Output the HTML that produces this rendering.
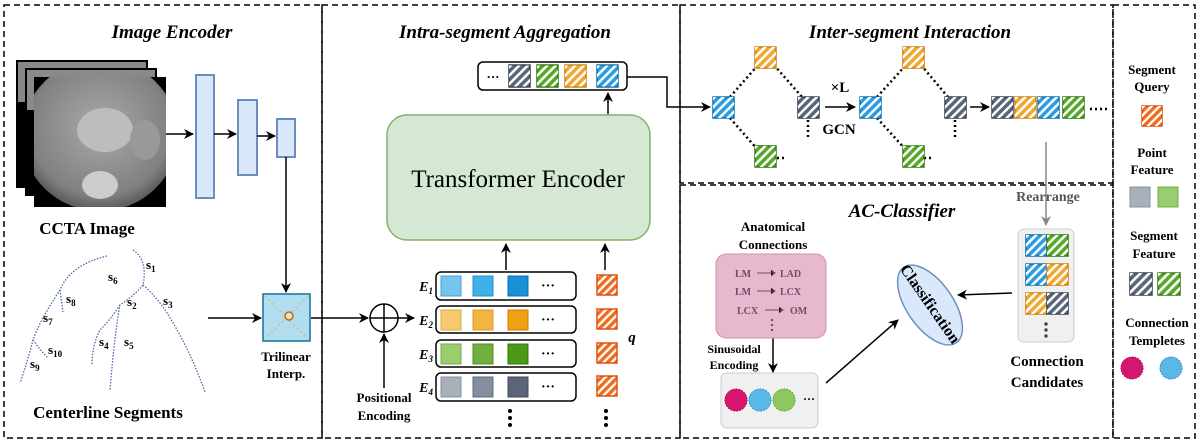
<!DOCTYPE html>
<html><head><meta charset="utf-8"><style>body{margin:0;background:#fff}svg{display:block}text{font-family:"Liberation Serif",serif;font-weight:bold}</style></head><body>
<svg width="1200" height="443" viewBox="0 0 1200 443" xmlns="http://www.w3.org/2000/svg">
<defs>
<marker id="ar" markerWidth="10" markerHeight="10" refX="9" refY="5" orient="auto" markerUnits="userSpaceOnUse"><path d="M0,0 L10,5 L0,10 L3,5z" fill="#000"/></marker>
<marker id="ag" markerWidth="10" markerHeight="10" refX="9" refY="5" orient="auto" markerUnits="userSpaceOnUse"><path d="M0,0 L10,5 L0,10 L3,5z" fill="#888"/></marker>
<pattern id="h" width="6" height="6" patternUnits="userSpaceOnUse" patternTransform="rotate(45)"><rect width="2.5" height="6" fill="#fff"/></pattern>
<radialGradient id="ct" cx="0.5" cy="0.45" r="0.6"><stop offset="0" stop-color="#aaa"/><stop offset="0.75" stop-color="#808080"/><stop offset="1" stop-color="#444"/></radialGradient>
<clipPath id="cc"><rect x="34" y="77" width="132" height="130"/></clipPath>
<symbol id="hs" viewBox="0 0 21 21"><rect width="21" height="21" fill="url(#h)"/></symbol>
</defs>
<g fill="none" stroke="#000" stroke-width="1.5" stroke-dasharray="6,4">
<rect x="4" y="5" width="318" height="433"/>
<rect x="322" y="5" width="358" height="433"/>
<rect x="680" y="5" width="433" height="178"/>
<rect x="680" y="185" width="433" height="253"/>
<rect x="1113" y="5" width="82" height="433"/>
</g>
<g font-style="italic" font-size="19" text-anchor="middle">
<text x="172" y="38">Image Encoder</text>
<text x="505" y="38">Intra-segment Aggregation</text>
<text x="910" y="38">Inter-segment Interaction</text>
<text x="902" y="217">AC-Classifier</text>
</g>
<!-- CT images -->
<rect x="16" y="60" width="132" height="128" fill="#000"/>
<rect x="18" y="62" width="128" height="40" fill="#888"/>
<rect x="25" y="68" width="132" height="128" fill="#000"/>
<rect x="27" y="70" width="128" height="40" fill="#8a8a8a"/>
<rect x="34" y="77" width="132" height="130" fill="#000"/>
<g clip-path="url(#cc)">
<ellipse cx="100" cy="135" rx="78" ry="76" fill="url(#ct)"/>
<ellipse cx="105" cy="130" rx="28" ry="22" fill="#bdbdbd"/>
<ellipse cx="145" cy="140" rx="15" ry="20" fill="#999"/>
<ellipse cx="100" cy="185" rx="18" ry="14" fill="#ccc"/>
</g>
<text x="87" y="234" font-size="17" text-anchor="middle">CCTA Image</text>
<g fill="#dae8fc" stroke="#6c8ebf" stroke-width="2">
<rect x="196" y="75" width="18" height="123"/><rect x="238" y="100" width="19" height="75"/><rect x="277" y="119" width="18" height="38"/></g>
<g stroke="#000" stroke-width="1.5" fill="none" marker-end="url(#ar)">
<line x1="166" y1="134" x2="193" y2="134"/><line x1="214" y1="134" x2="236" y2="134"/><line x1="257" y1="136" x2="275" y2="136"/>
<line x1="286" y1="157" x2="286" y2="292"/><line x1="208" y1="318" x2="261" y2="318"/>
<line x1="311" y1="318" x2="368" y2="318"/><line x1="398" y1="318" x2="414" y2="318"/>
<line x1="384" y1="388" x2="384" y2="334"/>
<line x1="506" y1="270" x2="506" y2="244"/><line x1="605" y1="270" x2="605" y2="244"/>
<line x1="608" y1="114" x2="608" y2="93"/>
<polyline points="627,77 667,77 667,107 710,107"/>
<line x1="825" y1="107" x2="855" y2="107"/><line x1="970" y1="107" x2="989" y2="107"/>
<line x1="1012" y1="293" x2="958" y2="295"/><line x1="826" y1="383" x2="898" y2="320"/>
<line x1="773" y1="338" x2="773" y2="372"/>
</g>
<rect x="263" y="294" width="47" height="47" fill="#b1ddf0" stroke="#10739e" stroke-width="1.5"/>
<g stroke="#f4a460" stroke-dasharray="2,3"><line x1="265" y1="296" x2="308" y2="339"/><line x1="308" y1="296" x2="265" y2="339"/></g>
<circle cx="289" cy="316" r="4" fill="#fde0b0" stroke="#b07020" stroke-width="1.5"/>
<g font-size="13" text-anchor="middle"><text x="286" y="361">Trilinear</text><text x="286" y="378">Interp.</text></g>
<!-- centerlines -->
<g fill="none" stroke="#4a6aa8" stroke-width="1.3" stroke-dasharray="1.5,1.5">
<path d="M107,256 Q70,265 60,290 Q40,320 33,340 Q28,360 20,383"/>
<path d="M60,290 Q62,305 63,312"/>
<path d="M33,340 Q40,350 48,358"/>
<path d="M133,250 Q148,260 143,285 Q135,295 120,305 Q115,330 110,390"/>
<path d="M143,285 Q160,300 170,318 Q190,350 205,392"/>
<path d="M120,305 Q110,320 100,330 Q92,345 92,365"/>
</g>
<g font-size="13"><text x="146" y="269">s<tspan font-size="9" dy="3">1</tspan></text><text x="108" y="281">s<tspan font-size="9" dy="3">6</tspan></text>
<text x="66" y="303">s<tspan font-size="9" dy="3">8</tspan></text><text x="163" y="305">s<tspan font-size="9" dy="3">3</tspan></text>
<text x="127" y="306">s<tspan font-size="9" dy="3">2</tspan></text><text x="43" y="322">s<tspan font-size="9" dy="3">7</tspan></text>
<text x="99" y="346">s<tspan font-size="9" dy="3">4</tspan></text><text x="124" y="346">s<tspan font-size="9" dy="3">5</tspan></text>
<text x="48" y="354">s<tspan font-size="9" dy="3">10</tspan></text><text x="30" y="368">s<tspan font-size="9" dy="3">9</tspan></text></g>
<text x="108" y="418" font-size="17" text-anchor="middle">Centerline Segments</text>
<!-- intra -->
<rect x="478" y="62" width="149" height="28" rx="5" fill="#fff" stroke="#000" stroke-width="1.5"/>
<text x="493" y="81" font-size="13" text-anchor="middle">···</text>
<g stroke-width="1.5">
<rect x="509" y="65" width="21" height="22" fill="#5a6679" stroke="#384455"/><use href="#hs" x="509" y="65" width="21" height="22"/>
<rect x="537" y="65" width="21" height="22" fill="#58a828" stroke="#2d7a10"/><use href="#hs" x="537" y="65" width="21" height="22"/>
<rect x="565" y="65" width="21" height="22" fill="#f0a830" stroke="#d08010"/><use href="#hs" x="565" y="65" width="21" height="22"/>
<rect x="597" y="65" width="21" height="22" fill="#2a9ee0" stroke="#1070b0"/><use href="#hs" x="597" y="65" width="21" height="22"/>
</g>
<rect x="387" y="115" width="263" height="125" rx="20" fill="#d5e8d4" stroke="#82b366" stroke-width="1.5"/>
<text x="518" y="187" font-size="25" text-anchor="middle" style="font-weight:normal">Transformer Encoder</text>
<g stroke="#000" stroke-width="1.5" fill="#fff">
<rect x="436" y="272" width="140" height="28" rx="5"/><rect x="436" y="306" width="140" height="27" rx="5"/>
<rect x="436" y="340" width="140" height="27" rx="5"/><rect x="436" y="373" width="140" height="28" rx="5"/></g>
<g stroke-width="1">
<rect x="441" y="276" width="20" height="20" fill="#76c5ee" stroke="#4aa0d0"/><rect x="473" y="276" width="20" height="20" fill="#40b0e8" stroke="#2090c8"/><rect x="508" y="276" width="20" height="20" fill="#1a90d8" stroke="#0a70b0"/>
<rect x="441" y="310" width="20" height="20" fill="#f7c870" stroke="#e0a840"/><rect x="473" y="310" width="20" height="20" fill="#f4b440" stroke="#d89820"/><rect x="508" y="310" width="20" height="20" fill="#f0a010" stroke="#c88000"/>
<rect x="441" y="344" width="20" height="20" fill="#9ccc70" stroke="#78a850"/><rect x="473" y="344" width="20" height="20" fill="#70b040" stroke="#509020"/><rect x="508" y="344" width="20" height="20" fill="#4a9a18" stroke="#307808"/>
<rect x="441" y="377" width="20" height="20" fill="#a8b0bc" stroke="#8890a0"/><rect x="473" y="377" width="20" height="20" fill="#848e9e" stroke="#606a7a"/><rect x="508" y="377" width="20" height="20" fill="#5a6678" stroke="#404a5a"/>
</g>
<g font-size="14" text-anchor="middle"><text x="548" y="290">···</text><text x="548" y="324">···</text><text x="548" y="358">···</text><text x="548" y="391">···</text></g>
<g font-size="14" font-style="italic" text-anchor="end"><text x="433" y="291">E<tspan font-size="9" dy="3">1</tspan></text><text x="433" y="325">E<tspan font-size="9" dy="3">2</tspan></text><text x="433" y="359">E<tspan font-size="9" dy="3">3</tspan></text><text x="433" y="392">E<tspan font-size="9" dy="3">4</tspan></text></g>
<g stroke="#e05010" stroke-width="1.5">
<rect x="597" y="275" width="20" height="20" fill="#f26a1b"/><use href="#hs" x="597" y="275" width="20" height="20"/>
<rect x="597" y="309" width="20" height="20" fill="#f26a1b"/><use href="#hs" x="597" y="309" width="20" height="20"/>
<rect x="597" y="343" width="20" height="20" fill="#f26a1b"/><use href="#hs" x="597" y="343" width="20" height="20"/>
<rect x="597" y="376" width="20" height="20" fill="#f26a1b"/><use href="#hs" x="597" y="376" width="20" height="20"/>
</g>
<text x="632" y="342" font-size="15" font-style="italic" text-anchor="middle">q</text>
<circle cx="384" cy="318" r="14" fill="#fff" stroke="#000" stroke-width="1.5"/>
<path d="M370,318 H398 M384,304 V332" stroke="#000" stroke-width="1.5"/>
<g font-size="13" text-anchor="middle"><text x="384" y="402">Positional</text><text x="384" y="420">Encoding</text></g>
<g fill="#000"><circle cx="510" cy="411" r="2"/><circle cx="510" cy="418" r="2"/><circle cx="510" cy="425" r="2"/><circle cx="606" cy="411" r="2"/><circle cx="606" cy="418" r="2"/><circle cx="606" cy="425" r="2"/></g>
<!-- inter -->
<g stroke="#000" stroke-width="2.5" stroke-dasharray="2,3" fill="none">
<path d="M730,97 L758,65 M774,65 L802,97 M730,118 L758,150 M808,120 V140"/>
<path d="M877,97 L906,65 M921,65 L948,97 M877,118 L906,150 M955,120 V140"/>
<path d="M777,158 H786 M924,158 H933 M1090,109 H1110"/>
</g>
<g stroke-width="1.5">
<rect x="713" y="97" width="21" height="21" fill="#2a9ee0" stroke="#1070b0"/><use href="#hs" x="713" y="97" width="21" height="21"/>
<rect x="755" y="47" width="21" height="21" fill="#f0a830" stroke="#d08010"/><use href="#hs" x="755" y="47" width="21" height="21"/>
<rect x="798" y="97" width="21" height="21" fill="#5a6679" stroke="#384455"/><use href="#hs" x="798" y="97" width="21" height="21"/>
<rect x="755" y="146" width="21" height="21" fill="#58a828" stroke="#2d7a10"/><use href="#hs" x="755" y="146" width="21" height="21"/>
<rect x="860" y="97" width="21" height="21" fill="#2a9ee0" stroke="#1070b0"/><use href="#hs" x="860" y="97" width="21" height="21"/>
<rect x="903" y="47" width="21" height="21" fill="#f0a830" stroke="#d08010"/><use href="#hs" x="903" y="47" width="21" height="21"/>
<rect x="945" y="97" width="21" height="21" fill="#5a6679" stroke="#384455"/><use href="#hs" x="945" y="97" width="21" height="21"/>
<rect x="903" y="146" width="21" height="21" fill="#58a828" stroke="#2d7a10"/><use href="#hs" x="903" y="146" width="21" height="21"/>
<rect x="992" y="97" width="21" height="21" fill="#5a6679" stroke="#384455"/><use href="#hs" x="992" y="97" width="21" height="21"/>
<rect x="1015" y="97" width="21" height="21" fill="#f0a830" stroke="#d08010"/><use href="#hs" x="1015" y="97" width="21" height="21"/>
<rect x="1038" y="97" width="21" height="21" fill="#2a9ee0" stroke="#1070b0"/><use href="#hs" x="1038" y="97" width="21" height="21"/>
<rect x="1063" y="97" width="21" height="21" fill="#58a828" stroke="#2d7a10"/><use href="#hs" x="1063" y="97" width="21" height="21"/>
</g>
<g font-size="15" text-anchor="middle"><text x="840" y="92">×L</text><text x="839" y="134">GCN</text></g>
<!-- AC -->
<line x1="1046" y1="142" x2="1046" y2="225" stroke="#888" stroke-width="1.5" marker-end="url(#ag)"/>
<text x="1048" y="201" font-size="14" fill="#555" text-anchor="middle">Rearrange</text>
<rect x="1018" y="229" width="56" height="113" rx="6" fill="#f0f0f0" stroke="#ccc"/>
<g stroke-width="1.5">
<rect x="1026" y="235" width="21" height="21" fill="#2a9ee0" stroke="#1070b0"/><use href="#hs" x="1026" y="235" width="21" height="21"/>
<rect x="1047" y="235" width="21" height="21" fill="#58a828" stroke="#2d7a10"/><use href="#hs" x="1047" y="235" width="21" height="21"/>
<rect x="1026" y="264" width="21" height="21" fill="#2a9ee0" stroke="#1070b0"/><use href="#hs" x="1026" y="264" width="21" height="21"/>
<rect x="1047" y="264" width="21" height="21" fill="#f0a830" stroke="#d08010"/><use href="#hs" x="1047" y="264" width="21" height="21"/>
<rect x="1026" y="293" width="21" height="21" fill="#f0a830" stroke="#d08010"/><use href="#hs" x="1026" y="293" width="21" height="21"/>
<rect x="1047" y="293" width="21" height="21" fill="#5a6679" stroke="#384455"/><use href="#hs" x="1047" y="293" width="21" height="21"/>
</g>
<g fill="#444"><circle cx="1046" cy="324" r="1.7"/><circle cx="1046" cy="330" r="1.7"/><circle cx="1046" cy="336" r="1.7"/></g>
<g font-size="15" text-anchor="middle"><text x="1047" y="366">Connection</text><text x="1047" y="387">Candidates</text></g>
<g transform="translate(930,305) rotate(-35)"><ellipse rx="23" ry="46" fill="#dae8fc" stroke="#6c8ebf" stroke-width="1.5"/></g>
<text transform="translate(930,304) rotate(55)" font-size="16" text-anchor="middle" dy="5">Classification</text>
<g font-size="13" text-anchor="middle"><text x="773" y="231">Anatomical</text><text x="773" y="249">Connections</text></g>
<rect x="716" y="254" width="110" height="84" rx="10" fill="#e8b8cf" stroke="#d090b0"/>
<g font-size="10" fill="#7a4a68"><text x="735" y="277">LM</text><text x="780" y="277">LAD</text><text x="735" y="295">LM</text><text x="780" y="295">LCX</text><text x="737" y="314">LCX</text><text x="790" y="314">OM</text></g>
<g stroke="#7a4a68" stroke-width="1"><path d="M757,273 H775 M771,270 L775,273 L771,276"/><path d="M757,291 H775 M771,288 L775,291 L771,294"/><path d="M765,310 H783 M779,307 L783,310 L779,313"/></g>
<g fill="#7a4a68"><circle cx="772" cy="320" r="1.2"/><circle cx="772" cy="325" r="1.2"/><circle cx="772" cy="330" r="1.2"/></g>
<g font-size="12" text-anchor="middle"><text x="734" y="353">Sinusoidal</text><text x="734" y="369">Encoding</text></g>
<rect x="721" y="373" width="97" height="55" rx="6" fill="#f0f0f0" stroke="#ccc"/>
<circle cx="736" cy="400" r="11" fill="#d6166e" stroke="#b00050" stroke-dasharray="2,1"/>
<circle cx="760" cy="400" r="11" fill="#5ab8e8" stroke="#2a90d0" stroke-dasharray="2,1"/>
<circle cx="784" cy="400" r="11" fill="#8cc860" stroke="#60a040" stroke-dasharray="2,1"/>
<text x="809" y="403" font-size="12" text-anchor="middle">···</text>
<!-- legend -->
<g font-size="13" text-anchor="middle"><text x="1152" y="74">Segment</text><text x="1152" y="91">Query</text>
<text x="1152" y="157">Point</text><text x="1152" y="174">Feature</text>
<text x="1154" y="240">Segment</text><text x="1154" y="258">Feature</text>
<text x="1157" y="327">Connection</text><text x="1157" y="345">Templetes</text></g>
<rect x="1142" y="106" width="20" height="20" fill="#f26a1b" stroke="#e05010" stroke-width="1.5"/><use href="#hs" x="1142" y="106" width="20" height="20"/>
<rect x="1130" y="187" width="20" height="20" fill="#a8b0bc" stroke="#8890a0"/>
<rect x="1158" y="187" width="20" height="20" fill="#9ccc70" stroke="#78a850"/>
<rect x="1130" y="273" width="22" height="22" fill="#5a6679" stroke="#384455" stroke-width="1.5"/><use href="#hs" x="1130" y="273" width="22" height="22"/>
<rect x="1158" y="273" width="22" height="22" fill="#58a828" stroke="#2d7a10" stroke-width="1.5"/><use href="#hs" x="1158" y="273" width="22" height="22"/>
<circle cx="1132" cy="368" r="11" fill="#d6166e" stroke="#b00050" stroke-dasharray="2,1"/>
<circle cx="1171" cy="368" r="11" fill="#5ab8e8" stroke="#2a90d0" stroke-dasharray="2,1"/>
</svg>
</body></html>
